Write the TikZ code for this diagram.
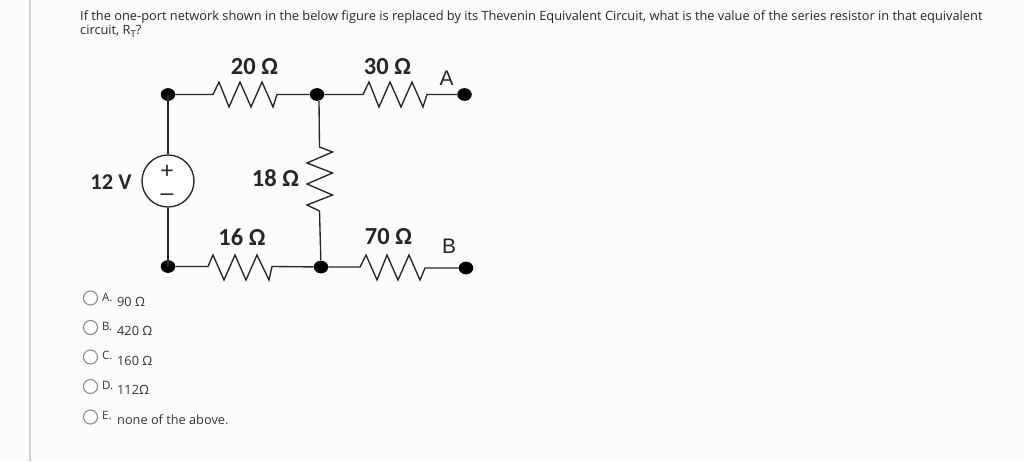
\documentclass[tikz,border=0pt]{standalone}
\usepackage{fontspec}
\setmainfont{Open Sans}
\newfontfamily\clab{Carlito}[BoldFont={Carlito Bold}]
\newfontfamily\alab{Liberation Sans}
\tikzset{
  wire/.style={draw=black!85,line width=1.35pt,line join=miter},
  term/.style={circle,fill=black,draw=none,minimum size=14.5pt,inner sep=0pt,yscale=.88},
  source/.style={circle,draw=black!85,line width=1.35pt,minimum size=52pt,inner sep=0pt,fill=white},
  vallab/.style={font=\clab\bfseries\fontsize{24.5}{26}\selectfont,text=black!85,inner sep=0pt,anchor=base},
  srclab/.style={font=\clab\bfseries\fontsize{22.5}{24}\selectfont,text=black!85,inner sep=0pt,anchor=base},
  signlab/.style={inner sep=0pt,font=\alab\fontsize{23}{24}\selectfont,text=black!85},
  portlab/.style={font=\alab\fontsize{21}{24}\selectfont,text=black!85,inner sep=0pt,anchor=base},
  question/.style={font=\fontsize{12.81}{15}\selectfont,text=black!85,inner sep=0pt,anchor=base west},
  optletter/.style={font=\fontsize{11.5}{14}\selectfont,text=black!80,inner sep=0pt,anchor=base west},
  optvalue/.style={font=\fontsize{12.75}{15}\selectfont,text=black!80,inner sep=0pt,anchor=base west},
  radio/.style={circle,draw=black!45,line width=1.1pt,fill=white,minimum size=14pt,inner sep=0pt},
}
\begin{document}
\begin{tikzpicture}[x=1pt,y=-1pt]
\useasboundingbox (0,0) rectangle (1024,461);
\fill[white!99!black] (0,0) rectangle (1024,461);
\draw[black!18,line width=1.2pt] (30,0) -- (30,461);

\node[question] (q1) at (80,20) {If the one-port network shown in the below figure is replaced by its Thevenin Equivalent Circuit, what is the value of the series resistor in that equivalent};
\node[question] (q2) at (80,34.5) {circuit, R\raisebox{-2.5pt}{\fontsize{9.5}{10}\selectfont T}?};

\node[term] (tl) at (168,94.5) {};
\node[term] (tm) at (317,94.5) {};
\node[term] (ta) at (464.5,94.5) {};
\node[term] (bl) at (168,266.5) {};
\node[term] (bm) at (321,267) {};
\node[term] (tb) at (466,268) {};
\node[source] (src) at (168,181) {};
\draw[wire] (tl.center) -- (src.north);
\draw[wire] (src.south) -- (bl.center);
\node[signlab] (plus) at (167,172) {+};
\node[signlab] (minus) at (167,197) {–};

% 20 ohm
\draw[wire] (tl) -- (213,94.5) -- (219,82) -- (229,107) -- (240,82) -- (251,107) -- (262,82) -- (273,107) -- (277,94.5) -- (tm);
% 30 ohm
\draw[wire] (tm) -- (363,94.5) -- (369,82) -- (379,107) -- (390,82) -- (401,107) -- (412,82) -- (423,107) -- (427,94.5) -- (ta);
% 18 ohm
\draw[wire] (tm.south) ++(2,0) -- (319.5,147) -- (332.5,152) -- (307,163) -- (332.5,173) -- (307,184) -- (332.5,195) -- (307,205) -- (319.5,211) -- (bm);
% 16 ohm
\draw[wire] (bl) -- (208,266.5) -- (213,255) -- (224,280) -- (235,255) -- (246,280) -- (257,255) -- (269,280) -- (272,266.5) -- (bm);
% 70 ohm
\draw[wire] (bm) -- (360,267) -- (366,255) -- (377,280) -- (387,255) -- (398,280) -- (409,255) -- (420,280) -- (425,268) -- (tb);

\node[vallab] (l20) at (254.5,74) {20 Ω};
\node[vallab] (l30) at (387.5,74) {30 Ω};
\node[vallab] (l18) at (275.5,186) {18 Ω};
\node[vallab] (l16) at (242,245) {16 Ω};
\node[vallab] (l70) at (388.5,244) {70 Ω};
\node[srclab] (l12) at (111,189) {12 V};
\node[portlab] (la) at (446.5,85.5) {A};
\node[portlab] (lb) at (449,253.5) {B};

\node[radio] (ra) at (90.5,298) {};
\node[radio] (rb) at (90.5,327.5) {};
\node[radio] (rc) at (90.5,357) {};
\node[radio] (rd) at (90.5,386.5) {};
\node[radio] (re) at (90.5,417) {};
\node[optletter] (oa) at (102,301) {A.};
\node[optletter] (ob) at (102,330) {B.};
\node[optletter] (oc) at (102,359.5) {C.};
\node[optletter] (od) at (102,389) {D.};
\node[optletter] (oe) at (102,419) {E.};
\node[optvalue] (va) at (117,306) {90 Ω};
\node[optvalue] (vb) at (117,335.5) {420 Ω};
\node[optvalue] (vc) at (117,365) {160 Ω};
\node[optvalue] (vd) at (117,394.5) {112Ω};
\node[optvalue] (ve) at (117,424) {none of the above.};
\end{tikzpicture}
\end{document}
